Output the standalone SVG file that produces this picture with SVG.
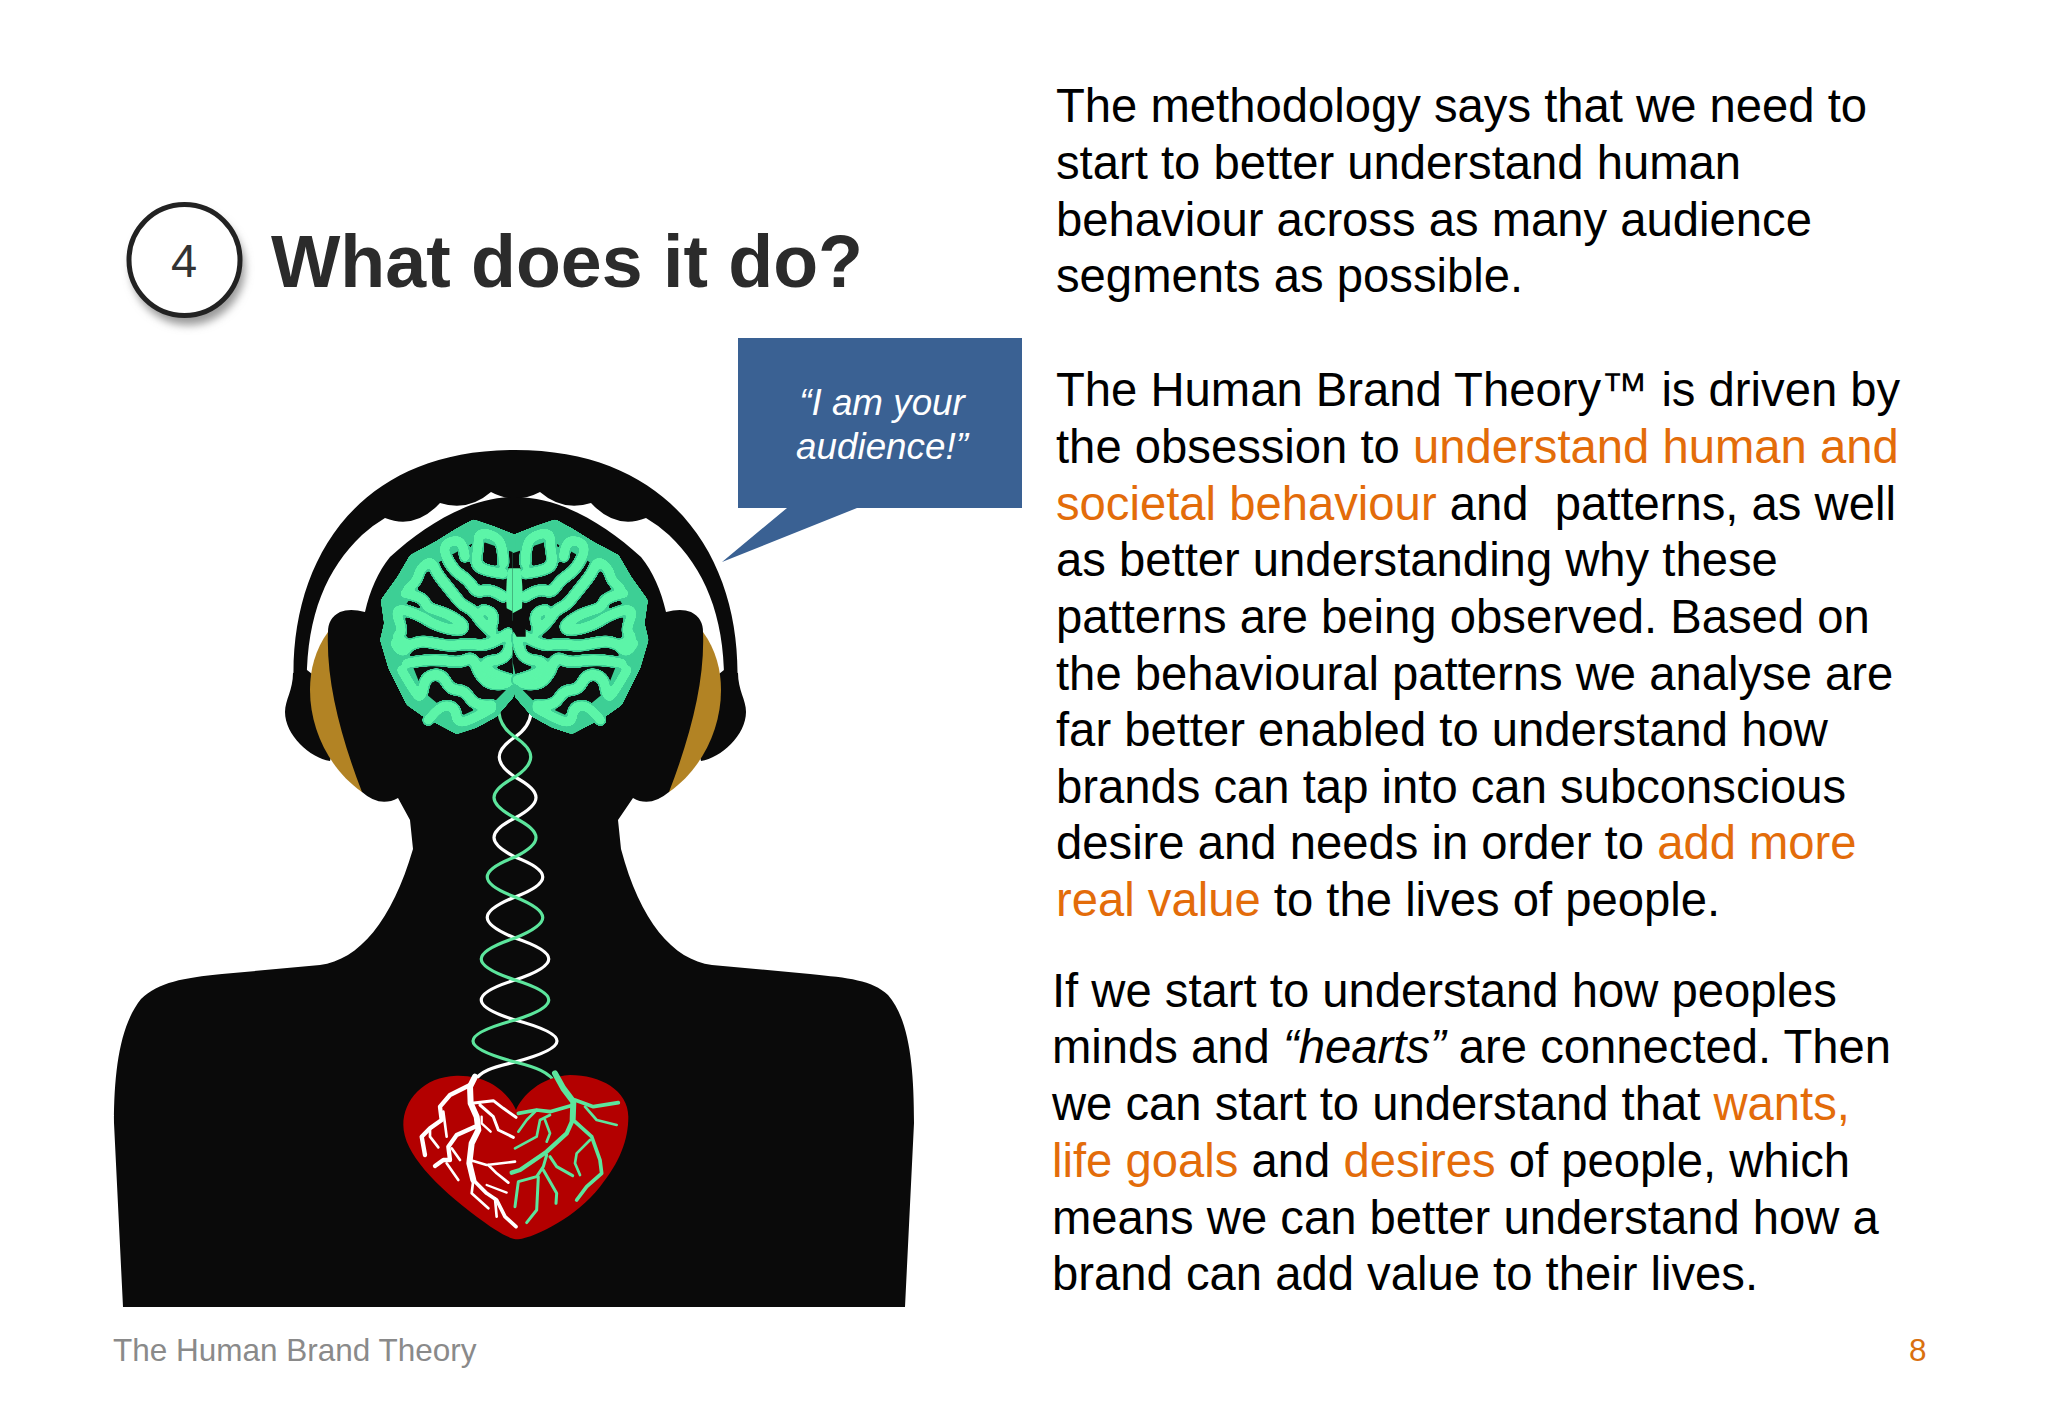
<svg xmlns="http://www.w3.org/2000/svg" xmlns:xlink="http://www.w3.org/1999/xlink" width="2048" height="1418" viewBox="0 0 2048 1418">
<style>
.b{font-family:"Liberation Sans",Arial,sans-serif;font-size:47.230px;fill:#000}
.o{fill:#e36c0a}
.v{fill:none;stroke-linecap:round;stroke-linejoin:round}
.w{stroke:#fff}.g{stroke:#5ce59c}
.s{fill:none;stroke-width:3.2;stroke-linecap:round}
.blk{fill:#0a0a0a}
.gold{fill:#b28324}
.gy{fill:none;stroke-linecap:round;stroke-linejoin:round}
</style>
<defs>
<filter id="soft" x="-30%" y="-30%" width="160%" height="160%"><feGaussianBlur stdDeviation="4"/></filter>
<filter id="bl" x="-5%" y="-5%" width="110%" height="110%"><feGaussianBlur stdDeviation="2"/></filter>
<filter id="goo" x="-10%" y="-10%" width="120%" height="120%" color-interpolation-filters="sRGB"><feGaussianBlur stdDeviation="5"/><feColorMatrix type="matrix" values="1 0 0 0 0 0 1 0 0 0 0 0 1 0 0 0 0 0 14 -6"/></filter>
<g id="ear">
<path class="blk" d="M293,673 C293,690 285,700 285,712 C285,735 310,758 330,761 L345,700 L307,670Z"/>
<path class="gold" d="M328,632 C315,650 310,670 310,690 C310,730 330,770 362,792 L385,700Z"/>
</g>
<g id="gyri">
<path d="M430,220 Q385,215 365,205 Q345,195 350,168 Q355,140 355,118 Q355,95 385,102 Q415,110 422,130 Q430,150 430,190"/>
<path d="M315,170 Q310,120 285,122 Q260,125 255,140 Q250,155 265,182 Q280,210 302,225 Q325,240 338,260 Q350,280 370,272 Q390,265 430,290"/>
<path d="M145,265 Q170,245 175,225 Q180,205 198,192 Q215,180 222,200 Q230,220 250,245 Q270,270 288,292 Q305,315 322,322 Q340,330 352,350 Q365,370 395,395"/>
<path d="M135,280 Q190,290 195,308 Q200,325 230,332 Q260,340 288,358 Q315,375 308,385 Q300,395 262,385 Q225,375 202,360 Q180,345 140,332 Q100,320 115,358 Q130,395 118,402 Q105,410 125,425 Q145,440 165,430 Q185,420 225,430 Q265,440 295,435 Q325,430 355,435 Q385,440 445,400"/>
<path d="M455,410 Q450,450 438,465 Q425,480 398,482 Q370,485 378,502 Q385,520 455,540"/>
<path d="M105,430 Q125,470 145,440"/>
<path d="M140,490 Q215,475 255,482 Q295,490 318,480 Q340,470 348,495 Q355,520 375,540 Q395,560 440,550"/>
<path d="M125,510 Q165,580 175,588 Q185,595 190,562 Q195,530 220,525 Q245,520 258,545 Q270,570 292,570 Q315,570 330,595 Q345,620 395,615"/>
<path d="M205,660 Q240,615 262,618 Q285,620 288,645 Q290,670 312,665 Q335,660 395,625"/>
<path d="M370,330 Q410,335 395,375"/>
</g>
</defs>
<rect width="2048" height="1418" fill="#fff"/>

<g id="badge">
<circle cx="188" cy="268" r="57" fill="#999" filter="url(#soft)"/>
<circle cx="184.500" cy="260" r="55.500" fill="#fff" stroke="#222" stroke-width="5"/>
<text x="184" y="277" font-family="Liberation Sans,Arial,sans-serif" font-size="47" fill="#333" text-anchor="middle">4</text>
</g>
<text id="title" x="271" y="287" font-family="Liberation Sans,Arial,sans-serif" font-size="73.500" font-weight="bold" fill="#2b2b2b">What does it do?</text>

<g id="figure">
<path class="blk" d="M294,690 C287,570 350,450 515,450 C680,450 744,570 737,690 L724,690 C726,620 706,570 669,535 Q658,525 646,518 Q616,530 591,503 Q563,512 540,492 Q515,505 491,492 Q468,512 440,503 Q415,530 385,518 Q373,525 362,535 C325,570 305,620 307,690Z"/>
<use xlink:href="#ear" href="#ear"/>
<use xlink:href="#ear" href="#ear" transform="translate(1031,0) scale(-1,1)"/>
<path class="blk" d="M123,1307 L905,1307 L914,1123 C914,1065 909,1019 888,995 C872,980 849,978 810,974 L712,965 C673,960 640,921 621,849 L618,820 L633,798 Q650,808 669,792 C691,735 705,680 703,632 Q703,618 691,612 Q681,608 666,612 C661,590 653,572 641,557 C606,525 561,497 515,497 C470,497 425,525 390,557 C378,572 370,590 365,612 Q350,608 340,612 Q328,618 328,632 C326,680 340,735 362,792 Q380,808 398,798 L410,820 L413,849 C392,921 359,960 320,965 L222,974 C183,978 159,982 141,999 C120,1025 114,1071 114,1123Z"/>
<g id="helix">
<path class="s w" d="M531,713 C530,722 524,731 515,737 C494,751 494,763 515,777 C543,792 543,803 515,818 C487,832 487,843 515,857 C552,871 552,883 515,897 C478,912 478,923 515,938 C560,953 560,965 515,980 C470,994 470,1006 515,1020 C571,1035 571,1047 515,1062 C495,1067 480,1070 474,1082"/>
<path class="s g" d="M499,713 C500,722 506,731 515,737 C536,751 536,763 515,777 C487,792 487,803 515,818 C543,832 543,843 515,857 C478,871 478,883 515,897 C552,912 552,923 515,938 C470,953 470,965 515,980 C560,994 560,1006 515,1020 C459,1035 459,1047 515,1062 C535,1067 550,1072 556,1084"/>
</g>
<g id="brain" transform="translate(360,500) scale(.33333)" filter="url(#bl)">
<g id="hemi">
<path fill="#3ecf95" filter="url(#goo)" d="M468,105 L400,78 L340,58 L290,85 L225,125 L150,165 L112,230 L62,300 L72,370 L60,420 L85,505 L115,565 L140,615 L190,650 L290,703 L350,683 L410,650 L462,590 L468,500Z"/>
<path fill="#0a0a0a" transform="translate(468,380) scale(.88) translate(-468,-380)" d="M468,130 L340,85 L230,145 L165,185 L130,245 L90,310 L92,420 L110,500 L150,600 L210,650 L290,680 L400,630 L450,580 L468,500Z"/>
<use href="#gyri" xlink:href="#gyri" class="gy" stroke="#3ecf95" stroke-width="37" filter="url(#goo)"/>
<use href="#gyri" xlink:href="#gyri" class="gy" stroke="#5cf5a8" stroke-width="27" filter="url(#goo)"/>
<path fill="#5cf5a8" d="M445,205 L468,205 L468,340 L440,325 Q435,260 445,205Z"/>
</g>
<use href="#hemi" xlink:href="#hemi" transform="translate(926,0) scale(-1,1)"/>
<path fill="#0a0a0a" d="M430,362 L497,362 L497,410 L470,410 L455,385Z"/>
</g>
<g id="heart" transform="translate(380,1030) scale(.33333)">
<path fill="#b30000" d="M408,240 C385,190 330,135 230,137 C130,140 70,210 70,285 C70,370 170,470 290,560 C340,597 390,630 415,628 C470,620 590,560 660,470 C720,395 745,330 745,260 C745,180 660,135 570,135 C480,140 425,200 408,240Z"/>
<g filter="url(#bl)">
<path class="v w" stroke-width="18" d="M285,140 L270,170 L272,220 L290,260 L295,300 L275,340 L268,400 L280,450"/>
<path class="v w" stroke-width="11" d="M280,450 L320,490 L350,510 L375,560 L408,590"/>
<path class="v w" stroke-width="13" d="M270,165 L210,195 L180,230 L185,270 L150,295 L125,320 L135,375"/>
<path class="v w" stroke-width="8" d="M150,295 L150,320 L175,352 M190,245 L200,320"/>
<path class="v w" stroke-width="13" d="M285,290 L230,315 L205,350 L210,390 L190,390 L165,408"/>
<path class="v w" stroke-width="8" d="M200,400 L235,450 M215,355 L240,390"/>
<path class="v w" stroke-width="9" d="M275,220 L340,212 L370,235 L408,262 M300,225 L340,260 L355,300 L400,322"/>
<path class="v w" stroke-width="7" d="M305,260 L305,280 L332,305 M320,465 L380,488"/>
<path class="v w" stroke-width="8" d="M270,390 L320,405 L405,395 M325,405 L350,430 L385,458 M280,450 L275,490 L325,535 M345,505 L350,560"/>
<path class="v g" stroke-width="18" d="M525,130 L550,175 L580,215 L578,270"/>
<path class="v g" stroke-width="13" d="M578,270 L560,310 L500,365 L420,420 L395,428"/>
<path class="v g" stroke-width="11" d="M580,225 L510,245 L470,240 L415,250 M585,210 L640,230 L715,218 M585,275 L635,320 L660,390 L665,430 L620,470 L590,510"/>
<path class="v g" stroke-width="8" d="M470,240 L440,270 L415,305 M510,255 L480,270 L470,320 L405,355 M495,270 L510,310 L500,335 M615,230 L650,270 L710,285 M630,330 L590,370 L585,400 L600,435"/>
<path class="v g" stroke-width="9" d="M500,375 L490,410 L470,440 L415,455 L405,530 M475,440 L470,540 L440,578 M490,420 L530,490 L528,520 M510,380 L530,410 L578,437"/>
</g>
</g>
</g>

<g id="callout">
<path fill="#3a6193" d="M738,338 H1022 V508 H857 L722,562 L787,508 H738Z"/>
<text font-family="Liberation Sans,Arial,sans-serif" font-size="36.800" font-style="italic" fill="#fff" text-anchor="middle"><tspan x="882" y="415">“I am your</tspan><tspan x="882" y="458.500">audience!”</tspan></text>
</g>

<g id="body" class="b">
<text x="1056" y="122">The methodology says that we need to</text>
<text x="1056" y="179">start to better understand human</text>
<text x="1056" y="235.500">behaviour across as many audience</text>
<text x="1056" y="292">segments as possible.</text>
<text x="1056" y="405.500">The Human Brand Theory™ is driven by</text>
<text x="1056" y="462.500">the obsession to <tspan class="o">understand human and</tspan></text>
<text x="1056" y="519.500" xml:space="preserve"><tspan class="o">societal behaviour</tspan> and  patterns, as well</text>
<text x="1056" y="576">as better understanding why these</text>
<text x="1056" y="632.500">patterns are being observed. Based on</text>
<text x="1056" y="689.500">the behavioural patterns we analyse are</text>
<text x="1056" y="746">far better enabled to understand how</text>
<text x="1056" y="802.500">brands can tap into can subconscious</text>
<text x="1056" y="859">desire and needs in order to <tspan class="o">add more</tspan></text>
<text x="1056" y="916"><tspan class="o">real value</tspan> to the lives of people.</text>
<text x="1052" y="1007">If we start to understand how peoples</text>
<text x="1052" y="1063">minds and <tspan font-style="italic">“hearts”</tspan> are connected. Then</text>
<text x="1052" y="1120">we can start to understand that <tspan class="o">wants,</tspan></text>
<text x="1052" y="1177"><tspan class="o">life goals</tspan> and <tspan class="o">desires</tspan> of people, which</text>
<text x="1052" y="1234">means we can better understand how a</text>
<text x="1052" y="1290">brand can add value to their lives.</text>
</g>
<text id="footer" x="113" y="1361" font-family="Liberation Sans,Arial,sans-serif" font-size="31.500" fill="#8a8a8a">The Human Brand Theory</text>
<text id="page" x="1909" y="1361" font-family="Liberation Sans,Arial,sans-serif" font-size="31.500" fill="#d9700f">8</text>
</svg>
